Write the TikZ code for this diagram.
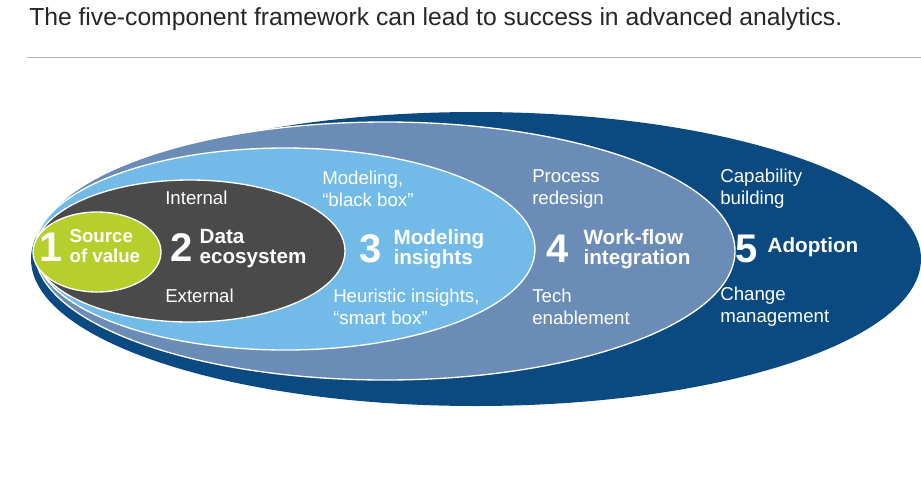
\documentclass[tikz,border=0pt]{standalone}
\usepackage{fontspec}
\setmainfont{Liberation Sans}
\usetikzlibrary{positioning}
\definecolor{layerfive}{HTML}{0B4A80}
\definecolor{layerfour}{HTML}{6A8CB6}
\definecolor{layerthree}{HTML}{72BBE8}
\definecolor{layertwo}{HTML}{4A4A4A}
\definecolor{layerone}{HTML}{B7CF2C}
\tikzstyle{layer} = [draw=white, line width=1pt]
\tikzstyle{num} = [anchor=east, inner sep=1pt, font=\fontsize{30}{30}\selectfont\bfseries, text=white]
\tikzstyle{title} = [anchor=west, inner sep=1pt, align=left, font=\fontsize{15.5}{15}\selectfont\bfseries, text=white]
\tikzstyle{item} = [anchor=west, inner sep=0pt, align=left, font=\fontsize{14}{16.5}\selectfont, text=white]
\begin{document}
\begin{tikzpicture}[x=0.75pt, y=-0.75pt]
\useasboundingbox (0,0) rectangle (921,479);
\node (heading) [anchor=west, inner sep=0pt, font=\fontsize{18.5}{20}\selectfont, text=black!85] at (29,19) {The five-component framework can lead to success in advanced analytics.};
\draw[black!30] (27,57) -- (921,57);

\fill[layerfive] (476,259) ellipse (445 and 147);
\fill[layer, fill=layerfour] (385,251) ellipse (350 and 129);
\fill[layer, fill=layerthree] (285,249) ellipse (250 and 101);
\fill[layer, fill=layertwo] (190,251) ellipse (155 and 71);
\fill[layer, fill=layerone] (97,252) ellipse (64 and 40);

\node (one) [num, font=\fontsize{31}{31}\selectfont\bfseries] at (64,247) {1};
\node (sourcetxt) [title, font=\fontsize{14}{15}\selectfont\bfseries] at (68,246) {Source\\of value};
\node (two) [num] at (194,248) {2};
\node (datatxt) [title] at (198,249) {Data\\ecosystem};
\node (internal) [item] at (165,198) {Internal};
\node (external) [item] at (165,296) {External};
\node (three) [num] at (383,249) {3};
\node (modeltxt) [title] at (392,249) {Modeling\\insights};
\node (blackbox) [item] at (322,189) {Modeling,\\“black box”};
\node (smartbox) [item] at (333,307) {Heuristic insights,\\“smart box”};
\node (four) [num] at (570,249) {4};
\node (flowtxt) [title] at (582,249) {Work-flow\\integration};
\node (redesign) [item] at (532,189) {Process\\redesign};
\node (enable) [item] at (532,307) {Tech\\enablement};
\node (five) [num] at (759,249) {5};
\node (adopttxt) [title] at (766,247) {Adoption};
\node (capab) [item] at (720,189) {Capability\\building};
\node (change) [item] at (720,307) {Change\\management};
\end{tikzpicture}
\end{document}
